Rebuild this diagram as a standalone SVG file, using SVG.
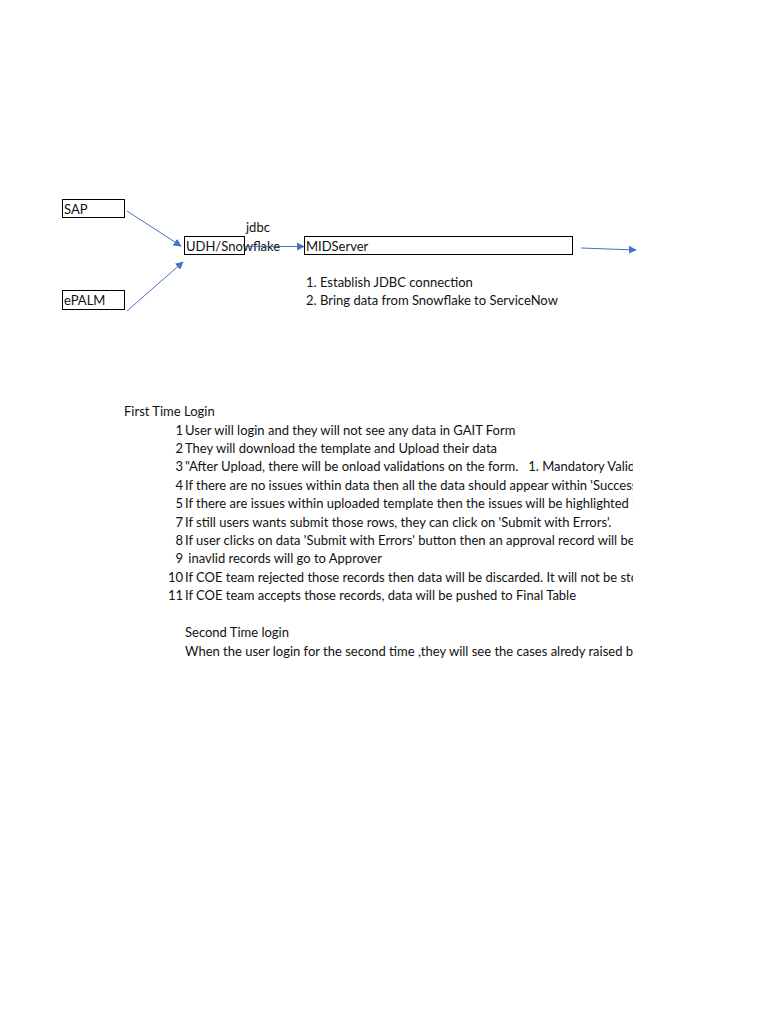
<svg xmlns="http://www.w3.org/2000/svg" width="768" height="1024" viewBox="0 0 768 1024">
<style>
text{font-family:Lato,"Open Sans","Liberation Sans",sans-serif;font-size:13px;fill:#111;white-space:pre}
.box{fill:#fff;stroke:#000;stroke-width:1}
.con{stroke:#4472C4;stroke-width:1;fill:none;marker-end:url(#ah)}
.num{text-anchor:end}
</style>
<defs>
<marker id="ah" viewBox="0 0 10 10" refX="9" refY="5" markerWidth="8" markerHeight="8" markerUnits="userSpaceOnUse" orient="auto">
<path d="M0,0 L10,5 L0,10 z" fill="#4472C4"/>
</marker>
<clipPath id="clip"><rect x="0" y="0" width="633" height="1024"/></clipPath>
</defs>
<rect width="768" height="1024" fill="#fff"/>
<g id="SAP"><rect class="box" x="62.5" y="199.5" width="62" height="18"/><text x="64" y="214">SAP</text></g>
<g id="ePALM"><rect class="box" x="62.5" y="290.5" width="62" height="19"/><text x="64" y="305">ePALM</text></g>
<g id="UDH"><rect class="box" x="184.5" y="236.5" width="60" height="18"/><text x="186" y="251">UDH/Snowflake</text></g>
<g id="MIDServer"><rect class="box" x="304.5" y="236.5" width="268" height="18"/><text x="306" y="251">MIDServer</text></g>
<g id="connectors">
<line class="con" x1="127" y1="211" x2="181" y2="246"/>
<line class="con" x1="127" y1="311" x2="183" y2="262"/>
<line class="con" x1="245" y1="246.5" x2="304" y2="246.5"/>
<line class="con" x1="581" y1="248" x2="636" y2="250"/>
</g>
<text x="246" y="232">jdbc</text>
<text x="306" y="287">1. Establish JDBC connection</text>
<text x="306" y="305">2. Bring data from Snowflake to ServiceNow</text>
<g id="notes" clip-path="url(#clip)">
<text x="124" y="416">First Time Login</text>
<text class="num" x="183" y="435">1</text><text x="185" y="435">User will login and they will not see any data in GAIT Form</text>
<text class="num" x="183" y="453">2</text><text x="185" y="453">They will download the template and Upload their data</text>
<text class="num" x="183" y="471">3</text><text x="185" y="471">"After Upload, there will be onload validations on the form.   1. Mandatory Validations</text>
<text class="num" x="183" y="490">4</text><text x="185" y="490">If there are no issues within data then all the data should appear within 'Success' tab</text>
<text class="num" x="183" y="508">5</text><text x="185" y="508">If there are issues within uploaded template then the issues will be highlighted in the form</text>
<text class="num" x="183" y="527">7</text><text x="185" y="527">If still users wants submit those rows, they can click on 'Submit with Errors'.</text>
<text class="num" x="183" y="545">8</text><text x="185" y="545">If user clicks on data 'Submit with Errors' button then an approval record will be created</text>
<text class="num" x="183" y="563">9</text><text x="185" y="563"> inavlid records will go to Approver</text>
<text class="num" x="183" y="582">10</text><text x="185" y="582">If COE team rejected those records then data will be discarded. It will not be stored</text>
<text class="num" x="183" y="600">11</text><text x="185" y="600">If COE team accepts those records, data will be pushed to Final Table</text>
<text x="185" y="637">Second Time login</text>
<text x="185" y="656">When the user login for the second time ,they will see the cases alredy raised by them</text>
</g>
</svg>
